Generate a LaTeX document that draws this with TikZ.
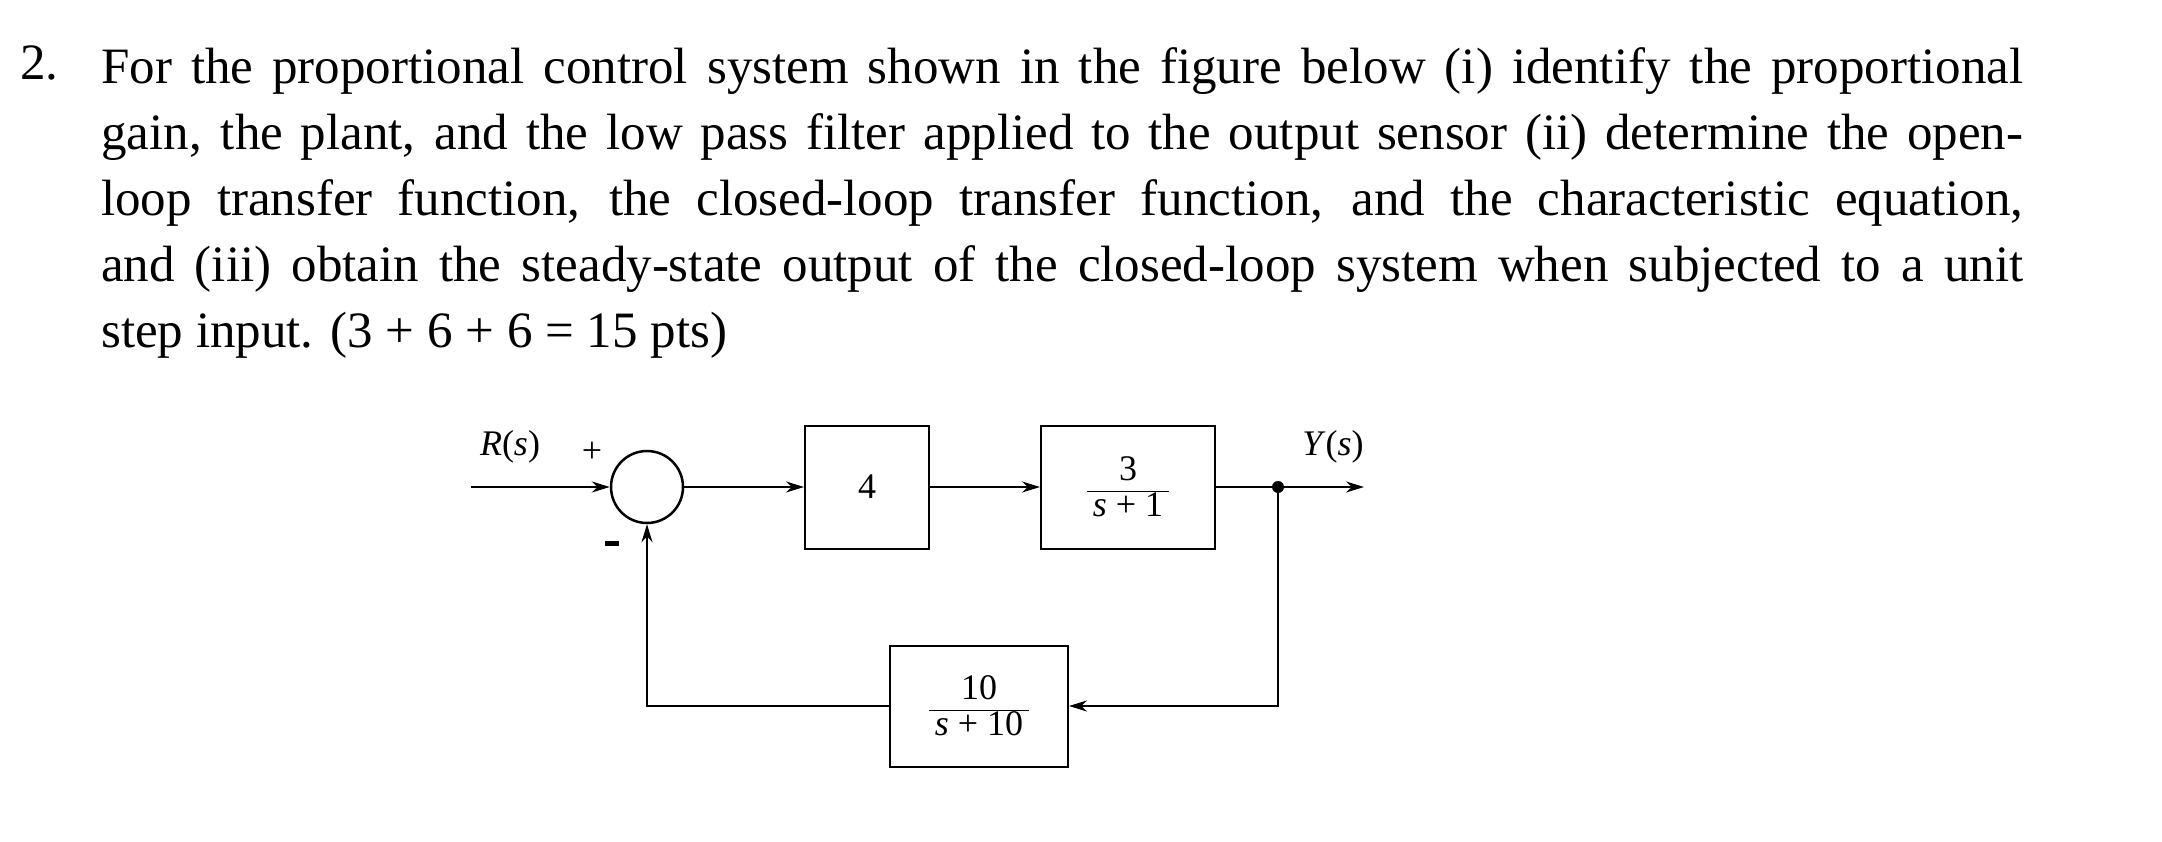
\documentclass[tikz,border=0pt]{standalone}
\usepackage{fontspec}
\setmainfont{Liberation Serif}
\usetikzlibrary{arrows.meta}
\begin{document}
\begin{tikzpicture}[x=1pt,y=-1pt,
  blk/.style={draw,line width=2pt,minimum width=#1,inner sep=0pt},
  conn/.style={line width=2pt,-{Stealth[length=18pt,width=11pt]}},
  ln/.style={line width=2pt},
  lbl/.style={font=\fontsize{36}{42}\selectfont,inner sep=0pt}]
\useasboundingbox (0,0) rectangle (2162,842);
\node[anchor=base west,inner sep=0pt,font=\fontsize{51}{66}\selectfont] (num) at (20,80) {2.};
\node[anchor=north west,inner sep=0pt,text width=1922pt,align=justify,font=\fontsize{51}{66}\selectfont] (txt) at (101,47)
{For the proportional control system shown in the figure below (i) identify the proportional\linebreak gain, the plant, and the low pass filter applied to the output sensor (ii) determine the open-\linebreak loop transfer function, the closed-loop transfer function, and the characteristic equation,\linebreak and (iii) obtain the steady-state output of the closed-loop system when subjected to a unit\linebreak step input. (3 + 6 + 6 = 15 pts)};
% diagram
\coordinate (in) at (471,487);
\node[draw,circle,line width=2.5pt,minimum size=72pt,inner sep=0pt] (sum) at (647,487) {};
\node[blk=124pt,minimum height=123pt,lbl] (k) at (867,487) {4};
\node[blk=174pt,minimum height=123pt,lbl] (g) at (1128,487) {$\displaystyle\frac{\mbox{3}}{\mbox{\,\textit{s} + 1\,}}$};
\node[blk=178pt,minimum height=121pt,lbl] (h) at (979,706) {$\displaystyle\frac{\mbox{10}}{\mbox{\,\textit{s} + 10\,}}$};
\coordinate (j) at (1278,487);
\coordinate (out) at (1364,487);
\draw[conn] (in) -- (sum.west);
\draw[conn] (sum.east) -- (k.west);
\draw[conn] (k.east) -- (g.west);
\draw[ln] (g.east) -- (j);
\draw[conn] (j) -- (out);
\fill (j) circle (6pt);
\draw[conn] (j) |- (h.east);
\draw[conn] (h.west) -| (sum.south);
\node[lbl] (r) at (510,447) {\textit{R}(\textit{s})};
\node[lbl] (y) at (1333,447) {\textit{Y}(\textit{s})};
\node[lbl] (plus) at (592,452) {+};
\node[fill,minimum width=14pt,minimum height=5pt,inner sep=0pt] (minus) at (612,543) {};
\end{tikzpicture}
\end{document}
